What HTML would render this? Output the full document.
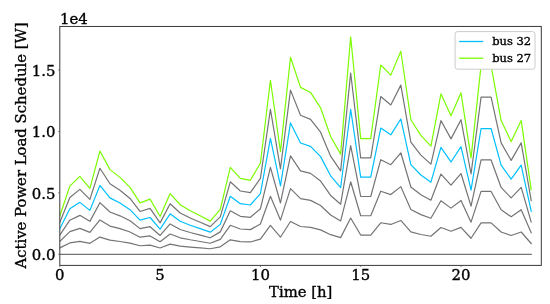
<!DOCTYPE html>
<html><head><meta charset="utf-8"><title>Active Power Load Schedule</title>
<style>
html,body{margin:0;padding:0;background:#fff;}
body{width:550px;height:304px;overflow:hidden;}
svg{display:block;}
text{font-family:"DejaVu Serif","Liberation Serif",serif;fill:#000;stroke:#000;stroke-width:0.35px;}
.tk{font-size:14.9px;}
.lb{font-size:14.85px;}
.lg{font-size:11.5px;}
</style></head><body>
<svg width="550" height="304" viewBox="0 0 550 304">
<rect x="0" y="0" width="550" height="304" fill="#fff"/>
<clipPath id="c"><rect x="59.8" y="26.45" width="481.49999999999994" height="238.95"/></clipPath>
<g clip-path="url(#c)">
<line x1="59.80" y1="254.40" x2="531.21" y2="254.40" stroke="#747474" stroke-width="1.2" stroke-linecap="square"/>
<polyline points="59.80,247.91 69.83,242.93 79.86,241.31 89.89,243.32 99.92,237.09 109.95,240.19 119.98,241.48 130.01,243.14 140.04,245.74 150.07,245.10 160.10,248.01 170.13,244.18 180.16,246.05 190.19,247.03 200.22,247.89 210.25,248.77 220.28,246.82 230.31,239.80 240.34,241.64 250.37,241.97 260.40,239.12 270.43,225.30 280.46,237.20 290.49,221.47 300.52,226.48 310.55,227.32 320.58,229.88 330.61,234.68 340.64,237.61 350.67,218.04 360.70,235.03 370.73,235.03 380.76,222.76 390.79,224.44 400.82,220.46 410.85,231.87 420.88,234.47 430.91,236.27 440.94,227.55 450.97,231.22 461.00,227.38 471.03,238.24 481.06,222.86 491.09,222.86 501.12,232.01 511.15,235.52 521.18,232.01 531.21,243.55" fill="none" stroke="#747474" stroke-width="1.2" stroke-linejoin="round" stroke-linecap="square"/>
<polyline points="59.80,241.52 69.83,231.56 79.86,228.33 89.89,232.34 99.92,219.89 109.95,226.07 119.98,228.65 130.01,231.97 140.04,237.18 150.07,235.91 160.10,241.72 170.13,234.06 180.16,237.79 190.19,239.76 200.22,241.48 210.25,243.24 220.28,239.35 230.31,225.30 240.34,228.98 250.37,229.64 260.40,223.94 270.43,196.29 280.46,220.09 290.49,188.63 300.52,198.67 310.55,200.35 320.58,205.47 330.61,215.05 340.64,220.91 350.67,181.79 360.70,215.75 370.73,215.75 380.76,191.21 390.79,194.57 400.82,186.62 410.85,209.44 420.88,214.64 430.91,218.25 440.94,200.80 450.97,208.13 461.00,200.47 471.03,222.18 481.06,191.42 491.09,191.42 501.12,209.73 511.15,216.73 521.18,209.73 531.21,232.79" fill="none" stroke="#747474" stroke-width="1.2" stroke-linejoin="round" stroke-linecap="square"/>
<polyline points="59.80,235.13 69.83,220.20 79.86,215.34 89.89,221.36 99.92,202.68 109.95,211.96 119.98,215.83 130.01,220.81 140.04,228.61 150.07,226.71 160.10,235.43 170.13,223.94 180.16,229.54 190.19,232.49 200.22,235.07 210.25,237.71 220.28,231.87 230.31,210.79 240.34,216.32 250.37,217.31 260.40,208.77 270.43,167.29 280.46,202.99 290.49,155.80 300.52,170.85 310.55,173.37 320.58,181.05 330.61,195.43 340.64,204.22 350.67,145.53 360.70,196.48 370.73,196.48 380.76,159.67 390.79,164.71 400.82,152.78 410.85,187.01 420.88,194.82 430.91,200.22 440.94,174.05 450.97,185.05 461.00,173.55 471.03,206.12 481.06,159.97 491.09,159.97 501.12,187.44 511.15,197.95 521.18,187.44 531.21,222.04" fill="none" stroke="#747474" stroke-width="1.2" stroke-linejoin="round" stroke-linecap="square"/>
<polyline points="59.80,228.74 69.83,208.83 79.86,202.35 89.89,210.38 99.92,185.48 109.95,197.85 119.98,203.01 130.01,209.65 140.04,220.05 150.07,217.51 160.10,229.15 170.13,213.82 180.16,221.28 190.19,225.21 200.22,228.65 210.25,232.18 220.28,224.39 230.31,196.29 240.34,203.67 250.37,204.98 260.40,193.59 270.43,138.28 280.46,185.89 290.49,122.96 300.52,143.03 310.55,146.39 320.58,156.64 330.61,175.81 340.64,187.52 350.67,109.28 360.70,177.20 370.73,177.20 380.76,128.12 390.79,134.84 400.82,118.95 410.85,164.58 420.88,174.99 430.91,182.20 440.94,147.30 450.97,161.96 461.00,146.64 471.03,190.06 481.06,128.53 491.09,128.53 501.12,165.16 511.15,179.17 521.18,165.16 531.21,211.28" fill="none" stroke="#00bfff" stroke-width="1.2" stroke-linejoin="round" stroke-linecap="square"/>
<polyline points="59.80,222.35 69.83,197.46 79.86,189.37 89.89,199.40 99.92,168.27 109.95,183.73 119.98,190.19 130.01,198.48 140.04,211.49 150.07,208.31 160.10,222.86 170.13,203.71 180.16,213.03 190.19,217.94 200.22,222.24 210.25,226.65 220.28,216.92 230.31,181.79 240.34,191.01 250.37,192.65 260.40,178.41 270.43,109.28 280.46,168.78 290.49,90.13 300.52,115.22 310.55,119.42 320.58,132.22 330.61,156.18 340.64,170.83 350.67,73.02 360.70,157.93 370.73,157.93 380.76,96.58 390.79,104.98 400.82,85.11 410.85,142.15 420.88,155.16 430.91,164.17 440.94,120.54 450.97,138.88 461.00,119.72 471.03,174.01 481.06,97.09 491.09,97.09 501.12,142.87 511.15,160.38 521.18,142.87 531.21,200.53" fill="none" stroke="#747474" stroke-width="1.2" stroke-linejoin="round" stroke-linecap="square"/>
<polyline points="59.80,215.96 69.83,186.09 79.86,176.38 89.89,188.43 99.92,151.06 109.95,169.62 119.98,177.36 130.01,187.32 140.04,202.93 150.07,199.12 160.10,216.57 170.13,193.59 180.16,204.77 190.19,210.67 200.22,215.83 210.25,221.12 220.28,209.44 230.31,167.29 240.34,178.35 250.37,180.31 260.40,163.23 270.43,80.27 280.46,151.68 290.49,57.29 300.52,87.40 310.55,92.44 320.58,107.80 330.61,136.56 340.64,154.14 350.67,36.77 360.70,138.65 370.73,138.65 380.76,65.03 390.79,75.11 400.82,51.27 410.85,119.72 420.88,135.33 430.91,146.15 440.94,93.79 450.97,115.79 461.00,92.81 471.03,157.95 481.06,65.65 491.09,65.65 501.12,120.58 511.15,141.60 521.18,120.58 531.21,189.78" fill="none" stroke="#7cfc00" stroke-width="1.2" stroke-linejoin="round" stroke-linecap="square"/>
</g>
<rect x="59.8" y="26.45" width="481.49999999999994" height="238.95" fill="none" stroke="#383838" stroke-width="1"/>
<line x1="59.80" y1="265.40" x2="59.80" y2="266.90" stroke="#4d4d4d" stroke-width="0.8"/>
<text class="tk" x="59.80" y="279.8" text-anchor="middle">0</text>
<line x1="160.10" y1="265.40" x2="160.10" y2="266.90" stroke="#4d4d4d" stroke-width="0.8"/>
<text class="tk" x="160.10" y="279.8" text-anchor="middle">5</text>
<line x1="260.40" y1="265.40" x2="260.40" y2="266.90" stroke="#4d4d4d" stroke-width="0.8"/>
<text class="tk" x="260.40" y="279.8" text-anchor="middle">10</text>
<line x1="360.70" y1="265.40" x2="360.70" y2="266.90" stroke="#4d4d4d" stroke-width="0.8"/>
<text class="tk" x="360.70" y="279.8" text-anchor="middle">15</text>
<line x1="461.00" y1="265.40" x2="461.00" y2="266.90" stroke="#4d4d4d" stroke-width="0.8"/>
<text class="tk" x="461.00" y="279.8" text-anchor="middle">20</text>
<line x1="58.30" y1="254.30" x2="59.80" y2="254.30" stroke="#4d4d4d" stroke-width="0.8"/>
<text class="tk" x="55.5" y="260.00" text-anchor="end">0.0</text>
<line x1="58.30" y1="192.85" x2="59.80" y2="192.85" stroke="#4d4d4d" stroke-width="0.8"/>
<text class="tk" x="55.5" y="198.55" text-anchor="end">0.5</text>
<line x1="58.30" y1="131.40" x2="59.80" y2="131.40" stroke="#4d4d4d" stroke-width="0.8"/>
<text class="tk" x="55.5" y="137.10" text-anchor="end">1.0</text>
<line x1="58.30" y1="69.95" x2="59.80" y2="69.95" stroke="#4d4d4d" stroke-width="0.8"/>
<text class="tk" x="55.5" y="75.65" text-anchor="end">1.5</text>
<text class="tk" x="59.95" y="23.8">1e4</text>
<text class="lb" x="300.7" y="297.4" text-anchor="middle">Time [h]</text>
<text class="lb" transform="translate(25.5,145.5) rotate(-90)" text-anchor="middle">Active Power Load Schedule [W]</text>
<rect x="455.1" y="31.6" width="79.9" height="37.6" rx="2.5" ry="2.5" fill="#fff" fill-opacity="1" stroke="#cccccc" stroke-width="1"/>
<line x1="459.1" y1="41.5" x2="483.2" y2="41.5" stroke="#00bfff" stroke-width="1.3"/>
<line x1="459.1" y1="58.2" x2="483.2" y2="58.2" stroke="#7cfc00" stroke-width="1.3"/>
<text class="lg" x="492.2" y="45.2">bus 32</text>
<text class="lg" x="492.2" y="62.2">bus 27</text>
</svg></body></html>
